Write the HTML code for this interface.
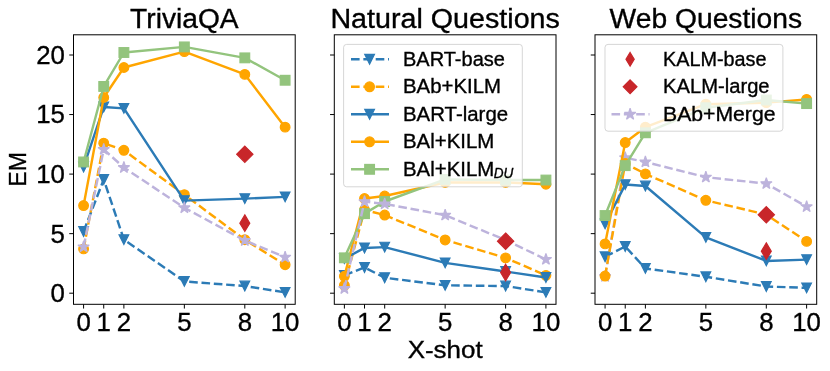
<!DOCTYPE html><html><head><meta charset="utf-8"><style>html,body{margin:0;padding:0;background:#fff;}svg{display:block;will-change:transform;}text{font-family:"Liberation Sans",sans-serif;fill:#000;stroke:#000;stroke-width:0.35px;}</style></head><body>
<svg width="830" height="371" viewBox="0 0 830 371">
<rect width="830" height="371" fill="#fff"/>
<defs><clipPath id="c0"><rect x="73.5" y="34.8" width="221.7" height="269.5"/></clipPath></defs>
<g clip-path="url(#c0)">
<path d="M83.58,231.51L103.73,179.46L123.89,239.6L184.35,281.41L244.81,286.05L285.12,292.37" fill="none" stroke="#2c7bb6" stroke-width="2.43" stroke-linejoin="round" stroke-dasharray="8.6,3.75"/><path d="M78.73,226.66L88.43,226.66L83.58,236.36Z" fill="#2c7bb6" stroke="#2c7bb6" stroke-width="1.2"/><path d="M98.88,174.61L108.58,174.61L103.73,184.31Z" fill="#2c7bb6" stroke="#2c7bb6" stroke-width="1.2"/><path d="M119.04,234.75L128.74,234.75L123.89,244.45Z" fill="#2c7bb6" stroke="#2c7bb6" stroke-width="1.2"/><path d="M179.5,276.56L189.2,276.56L184.35,286.26Z" fill="#2c7bb6" stroke="#2c7bb6" stroke-width="1.2"/><path d="M239.96,281.2L249.66,281.2L244.81,290.9Z" fill="#2c7bb6" stroke="#2c7bb6" stroke-width="1.2"/><path d="M280.27,287.52L289.97,287.52L285.12,297.22Z" fill="#2c7bb6" stroke="#2c7bb6" stroke-width="1.2"/>
<path d="M83.58,248.89L103.73,143.13L123.89,150.28L184.35,194.7L244.81,239.72L285.12,264.74" fill="none" stroke="#ffa500" stroke-width="2.43" stroke-linejoin="round" stroke-dasharray="8.6,3.75"/><circle cx="83.58" cy="248.89" r="4.85" fill="#ffa500" stroke="#ffa500" stroke-width="1.2"/><circle cx="103.73" cy="143.13" r="4.85" fill="#ffa500" stroke="#ffa500" stroke-width="1.2"/><circle cx="123.89" cy="150.28" r="4.85" fill="#ffa500" stroke="#ffa500" stroke-width="1.2"/><circle cx="184.35" cy="194.7" r="4.85" fill="#ffa500" stroke="#ffa500" stroke-width="1.2"/><circle cx="244.81" cy="239.72" r="4.85" fill="#ffa500" stroke="#ffa500" stroke-width="1.2"/><circle cx="285.12" cy="264.74" r="4.85" fill="#ffa500" stroke="#ffa500" stroke-width="1.2"/>
<path d="M83.58,166.95L103.73,107.05L123.89,108.36L184.35,200.66L244.81,198.63L285.12,196.85" fill="none" stroke="#2c7bb6" stroke-width="2.43" stroke-linejoin="round"/><path d="M78.73,162.1L88.43,162.1L83.58,171.8Z" fill="#2c7bb6" stroke="#2c7bb6" stroke-width="1.2"/><path d="M98.88,102.2L108.58,102.2L103.73,111.9Z" fill="#2c7bb6" stroke="#2c7bb6" stroke-width="1.2"/><path d="M119.04,103.51L128.74,103.51L123.89,113.21Z" fill="#2c7bb6" stroke="#2c7bb6" stroke-width="1.2"/><path d="M179.5,195.81L189.2,195.81L184.35,205.51Z" fill="#2c7bb6" stroke="#2c7bb6" stroke-width="1.2"/><path d="M239.96,193.78L249.66,193.78L244.81,203.48Z" fill="#2c7bb6" stroke="#2c7bb6" stroke-width="1.2"/><path d="M280.27,192L289.97,192L285.12,201.7Z" fill="#2c7bb6" stroke="#2c7bb6" stroke-width="1.2"/>
<path d="M83.58,205.54L103.73,97.52L123.89,67.51L184.35,51.67L244.81,74.41L285.12,127.17" fill="none" stroke="#ffa500" stroke-width="2.43" stroke-linejoin="round"/><circle cx="83.58" cy="205.54" r="4.85" fill="#ffa500" stroke="#ffa500" stroke-width="1.2"/><circle cx="103.73" cy="97.52" r="4.85" fill="#ffa500" stroke="#ffa500" stroke-width="1.2"/><circle cx="123.89" cy="67.51" r="4.85" fill="#ffa500" stroke="#ffa500" stroke-width="1.2"/><circle cx="184.35" cy="51.67" r="4.85" fill="#ffa500" stroke="#ffa500" stroke-width="1.2"/><circle cx="244.81" cy="74.41" r="4.85" fill="#ffa500" stroke="#ffa500" stroke-width="1.2"/><circle cx="285.12" cy="127.17" r="4.85" fill="#ffa500" stroke="#ffa500" stroke-width="1.2"/>
<path d="M83.58,161.95L103.73,86.44L123.89,52.5L184.35,46.9L244.81,57.86L285.12,80.25" fill="none" stroke="#93c47d" stroke-width="2.43" stroke-linejoin="round"/><rect x="78.73" y="157.1" width="9.7" height="9.7" fill="#93c47d" stroke="#93c47d" stroke-width="1.2"/><rect x="98.88" y="81.59" width="9.7" height="9.7" fill="#93c47d" stroke="#93c47d" stroke-width="1.2"/><rect x="119.04" y="47.65" width="9.7" height="9.7" fill="#93c47d" stroke="#93c47d" stroke-width="1.2"/><rect x="179.5" y="42.05" width="9.7" height="9.7" fill="#93c47d" stroke="#93c47d" stroke-width="1.2"/><rect x="239.96" y="53.01" width="9.7" height="9.7" fill="#93c47d" stroke="#93c47d" stroke-width="1.2"/><rect x="280.27" y="75.4" width="9.7" height="9.7" fill="#93c47d" stroke="#93c47d" stroke-width="1.2"/>
<path d="M83.58,246.87L103.73,149.45L123.89,167.55L184.35,207.81L244.81,240.56L285.12,257.23" fill="none" stroke="#bdb3dc" stroke-width="2.43" stroke-linejoin="round" stroke-dasharray="8.6,3.75"/><path d="M83.58,240.87L82.23,245.02L77.87,245.02L81.4,247.58L80.05,251.72L83.58,249.16L87.1,251.72L85.76,247.58L89.28,245.02L84.92,245.02Z" fill="#bdb3dc" stroke="#bdb3dc" stroke-width="1.2" stroke-linejoin="bevel"/><path d="M103.73,143.45L102.38,147.59L98.03,147.59L101.55,150.15L100.21,154.3L103.73,151.74L107.26,154.3L105.91,150.15L109.44,147.59L105.08,147.59Z" fill="#bdb3dc" stroke="#bdb3dc" stroke-width="1.2" stroke-linejoin="bevel"/><path d="M123.89,161.55L122.54,165.7L118.18,165.7L121.71,168.26L120.36,172.4L123.89,169.84L127.41,172.4L126.07,168.26L129.59,165.7L125.23,165.7Z" fill="#bdb3dc" stroke="#bdb3dc" stroke-width="1.2" stroke-linejoin="bevel"/><path d="M184.35,201.81L183,205.95L178.64,205.95L182.17,208.51L180.82,212.66L184.35,210.1L187.88,212.66L186.53,208.51L190.06,205.95L185.7,205.95Z" fill="#bdb3dc" stroke="#bdb3dc" stroke-width="1.2" stroke-linejoin="bevel"/><path d="M244.81,234.56L243.47,238.7L239.11,238.7L242.63,241.27L241.29,245.41L244.81,242.85L248.34,245.41L246.99,241.27L250.52,238.7L246.16,238.7Z" fill="#bdb3dc" stroke="#bdb3dc" stroke-width="1.2" stroke-linejoin="bevel"/><path d="M285.12,251.23L283.78,255.38L279.42,255.38L282.94,257.94L281.6,262.09L285.12,259.52L288.65,262.09L287.3,257.94L290.83,255.38L286.47,255.38Z" fill="#bdb3dc" stroke="#bdb3dc" stroke-width="1.2" stroke-linejoin="bevel"/>
<path d="M244.81,214.9L249.78,223.17L244.81,231.44L239.85,223.17Z" fill="#c8262a" stroke="#c8262a" stroke-width="1.2"/>
<path d="M244.81,146.08L252.95,154.21L244.81,162.34L236.68,154.21Z" fill="#c8262a" stroke="#c8262a" stroke-width="1.2"/>
</g>
<rect x="73.5" y="34.8" width="221.7" height="269.5" fill="none" stroke="#000" stroke-width="1.0"/>
<line x1="83.58" y1="304.3" x2="83.58" y2="308.55" stroke="#000" stroke-width="1.0"/>
<text x="83.58" y="331.1" font-size="25.8" text-anchor="middle">0</text>
<line x1="103.73" y1="304.3" x2="103.73" y2="308.55" stroke="#000" stroke-width="1.0"/>
<text x="103.73" y="331.1" font-size="25.8" text-anchor="middle">1</text>
<line x1="123.89" y1="304.3" x2="123.89" y2="308.55" stroke="#000" stroke-width="1.0"/>
<text x="123.89" y="331.1" font-size="25.8" text-anchor="middle">2</text>
<line x1="184.35" y1="304.3" x2="184.35" y2="308.55" stroke="#000" stroke-width="1.0"/>
<text x="184.35" y="331.1" font-size="25.8" text-anchor="middle">5</text>
<line x1="244.81" y1="304.3" x2="244.81" y2="308.55" stroke="#000" stroke-width="1.0"/>
<text x="244.81" y="331.1" font-size="25.8" text-anchor="middle">8</text>
<line x1="285.12" y1="304.3" x2="285.12" y2="308.55" stroke="#000" stroke-width="1.0"/>
<text x="285.12" y="331.1" font-size="25.8" text-anchor="middle">10</text>
<line x1="69.25" y1="293.2" x2="73.5" y2="293.2" stroke="#000" stroke-width="1.0"/>
<text x="64.9" y="302.1" font-size="25.8" text-anchor="end">0</text>
<line x1="69.25" y1="233.65" x2="73.5" y2="233.65" stroke="#000" stroke-width="1.0"/>
<text x="64.9" y="242.55" font-size="25.8" text-anchor="end">5</text>
<line x1="69.25" y1="174.1" x2="73.5" y2="174.1" stroke="#000" stroke-width="1.0"/>
<text x="64.9" y="183" font-size="25.8" text-anchor="end">10</text>
<line x1="69.25" y1="114.55" x2="73.5" y2="114.55" stroke="#000" stroke-width="1.0"/>
<text x="64.9" y="123.45" font-size="25.8" text-anchor="end">15</text>
<line x1="69.25" y1="55" x2="73.5" y2="55" stroke="#000" stroke-width="1.0"/>
<text x="64.9" y="63.9" font-size="25.8" text-anchor="end">20</text>
<text x="184.35" y="28" font-size="27.0" text-anchor="middle" textLength="108.5" lengthAdjust="spacingAndGlyphs">TriviaQA</text>
<defs><clipPath id="c1"><rect x="334.3" y="34.8" width="221.7" height="269.5"/></clipPath></defs>
<g clip-path="url(#c1)">
<path d="M344.38,275.33L364.53,267.47L384.69,277.72L445.15,285.34L505.61,286.05L545.92,292.37" fill="none" stroke="#2c7bb6" stroke-width="2.43" stroke-linejoin="round" stroke-dasharray="8.6,3.75"/><path d="M339.53,270.48L349.23,270.48L344.38,280.19Z" fill="#2c7bb6" stroke="#2c7bb6" stroke-width="1.2"/><path d="M359.68,262.62L369.38,262.62L364.53,272.32Z" fill="#2c7bb6" stroke="#2c7bb6" stroke-width="1.2"/><path d="M379.84,272.87L389.54,272.87L384.69,282.57Z" fill="#2c7bb6" stroke="#2c7bb6" stroke-width="1.2"/><path d="M440.3,280.49L450,280.49L445.15,290.19Z" fill="#2c7bb6" stroke="#2c7bb6" stroke-width="1.2"/><path d="M500.76,281.2L510.46,281.2L505.61,290.9Z" fill="#2c7bb6" stroke="#2c7bb6" stroke-width="1.2"/><path d="M541.07,287.52L550.77,287.52L545.92,297.22Z" fill="#2c7bb6" stroke="#2c7bb6" stroke-width="1.2"/>
<path d="M344.38,285.34L364.53,209.95L384.69,215.07L445.15,239.96L505.61,257.83L545.92,275.33" fill="none" stroke="#ffa500" stroke-width="2.43" stroke-linejoin="round" stroke-dasharray="8.6,3.75"/><circle cx="344.38" cy="285.34" r="4.85" fill="#ffa500" stroke="#ffa500" stroke-width="1.2"/><circle cx="364.53" cy="209.95" r="4.85" fill="#ffa500" stroke="#ffa500" stroke-width="1.2"/><circle cx="384.69" cy="215.07" r="4.85" fill="#ffa500" stroke="#ffa500" stroke-width="1.2"/><circle cx="445.15" cy="239.96" r="4.85" fill="#ffa500" stroke="#ffa500" stroke-width="1.2"/><circle cx="505.61" cy="257.83" r="4.85" fill="#ffa500" stroke="#ffa500" stroke-width="1.2"/><circle cx="545.92" cy="275.33" r="4.85" fill="#ffa500" stroke="#ffa500" stroke-width="1.2"/>
<path d="M344.38,258.66L364.53,247.94L384.69,247.11L445.15,262.83L505.61,271.52L545.92,277.48" fill="none" stroke="#2c7bb6" stroke-width="2.43" stroke-linejoin="round"/><path d="M339.53,253.81L349.23,253.81L344.38,263.51Z" fill="#2c7bb6" stroke="#2c7bb6" stroke-width="1.2"/><path d="M359.68,243.09L369.38,243.09L364.53,252.79Z" fill="#2c7bb6" stroke="#2c7bb6" stroke-width="1.2"/><path d="M379.84,242.26L389.54,242.26L384.69,251.96Z" fill="#2c7bb6" stroke="#2c7bb6" stroke-width="1.2"/><path d="M440.3,257.98L450,257.98L445.15,267.68Z" fill="#2c7bb6" stroke="#2c7bb6" stroke-width="1.2"/><path d="M500.76,266.67L510.46,266.67L505.61,276.37Z" fill="#2c7bb6" stroke="#2c7bb6" stroke-width="1.2"/><path d="M541.07,272.63L550.77,272.63L545.92,282.33Z" fill="#2c7bb6" stroke="#2c7bb6" stroke-width="1.2"/>
<path d="M344.38,276.29L364.53,198.52L384.69,196.01L445.15,182.44L505.61,182.44L545.92,184.22" fill="none" stroke="#ffa500" stroke-width="2.43" stroke-linejoin="round"/><circle cx="344.38" cy="276.29" r="4.85" fill="#ffa500" stroke="#ffa500" stroke-width="1.2"/><circle cx="364.53" cy="198.52" r="4.85" fill="#ffa500" stroke="#ffa500" stroke-width="1.2"/><circle cx="384.69" cy="196.01" r="4.85" fill="#ffa500" stroke="#ffa500" stroke-width="1.2"/><circle cx="445.15" cy="182.44" r="4.85" fill="#ffa500" stroke="#ffa500" stroke-width="1.2"/><circle cx="505.61" cy="182.44" r="4.85" fill="#ffa500" stroke="#ffa500" stroke-width="1.2"/><circle cx="545.92" cy="184.22" r="4.85" fill="#ffa500" stroke="#ffa500" stroke-width="1.2"/>
<path d="M344.38,257.83L364.53,213.64L384.69,201.49L445.15,179.46L505.61,180.06L545.92,180.06" fill="none" stroke="#93c47d" stroke-width="2.43" stroke-linejoin="round"/><rect x="339.53" y="252.98" width="9.7" height="9.7" fill="#93c47d" stroke="#93c47d" stroke-width="1.2"/><rect x="359.68" y="208.79" width="9.7" height="9.7" fill="#93c47d" stroke="#93c47d" stroke-width="1.2"/><rect x="379.84" y="196.64" width="9.7" height="9.7" fill="#93c47d" stroke="#93c47d" stroke-width="1.2"/><rect x="440.3" y="174.61" width="9.7" height="9.7" fill="#93c47d" stroke="#93c47d" stroke-width="1.2"/><rect x="500.76" y="175.21" width="9.7" height="9.7" fill="#93c47d" stroke="#93c47d" stroke-width="1.2"/><rect x="541.07" y="175.21" width="9.7" height="9.7" fill="#93c47d" stroke="#93c47d" stroke-width="1.2"/>
<path d="M344.38,288.56L364.53,201.61L384.69,203.88L445.15,215.19L505.61,240.08L545.92,259.38" fill="none" stroke="#bdb3dc" stroke-width="2.43" stroke-linejoin="round" stroke-dasharray="8.6,3.75"/><path d="M344.38,282.56L343.03,286.7L338.67,286.7L342.2,289.26L340.85,293.41L344.38,290.85L347.9,293.41L346.56,289.26L350.08,286.7L345.72,286.7Z" fill="#bdb3dc" stroke="#bdb3dc" stroke-width="1.2" stroke-linejoin="bevel"/><path d="M364.53,195.61L363.18,199.76L358.83,199.76L362.35,202.32L361.01,206.47L364.53,203.9L368.06,206.47L366.71,202.32L370.24,199.76L365.88,199.76Z" fill="#bdb3dc" stroke="#bdb3dc" stroke-width="1.2" stroke-linejoin="bevel"/><path d="M384.69,197.88L383.34,202.02L378.98,202.02L382.51,204.58L381.16,208.73L384.69,206.17L388.21,208.73L386.87,204.58L390.39,202.02L386.03,202.02Z" fill="#bdb3dc" stroke="#bdb3dc" stroke-width="1.2" stroke-linejoin="bevel"/><path d="M445.15,209.19L443.8,213.34L439.44,213.34L442.97,215.9L441.62,220.04L445.15,217.48L448.68,220.04L447.33,215.9L450.86,213.34L446.5,213.34Z" fill="#bdb3dc" stroke="#bdb3dc" stroke-width="1.2" stroke-linejoin="bevel"/><path d="M505.61,234.08L504.27,238.23L499.91,238.23L503.43,240.79L502.09,244.94L505.61,242.37L509.14,244.94L507.79,240.79L511.32,238.23L506.96,238.23Z" fill="#bdb3dc" stroke="#bdb3dc" stroke-width="1.2" stroke-linejoin="bevel"/><path d="M545.92,253.38L544.58,257.52L540.22,257.52L543.74,260.08L542.4,264.23L545.92,261.67L549.45,264.23L548.1,260.08L551.63,257.52L547.27,257.52Z" fill="#bdb3dc" stroke="#bdb3dc" stroke-width="1.2" stroke-linejoin="bevel"/>
<path d="M505.61,264.2L510.58,272.48L505.61,280.75L500.65,272.48Z" fill="#c8262a" stroke="#c8262a" stroke-width="1.2"/>
<path d="M505.61,233.02L513.75,241.15L505.61,249.28L497.48,241.15Z" fill="#c8262a" stroke="#c8262a" stroke-width="1.2"/>
</g>
<rect x="334.3" y="34.8" width="221.7" height="269.5" fill="none" stroke="#000" stroke-width="1.0"/>
<line x1="344.38" y1="304.3" x2="344.38" y2="308.55" stroke="#000" stroke-width="1.0"/>
<text x="344.38" y="331.1" font-size="25.8" text-anchor="middle">0</text>
<line x1="364.53" y1="304.3" x2="364.53" y2="308.55" stroke="#000" stroke-width="1.0"/>
<text x="364.53" y="331.1" font-size="25.8" text-anchor="middle">1</text>
<line x1="384.69" y1="304.3" x2="384.69" y2="308.55" stroke="#000" stroke-width="1.0"/>
<text x="384.69" y="331.1" font-size="25.8" text-anchor="middle">2</text>
<line x1="445.15" y1="304.3" x2="445.15" y2="308.55" stroke="#000" stroke-width="1.0"/>
<text x="445.15" y="331.1" font-size="25.8" text-anchor="middle">5</text>
<line x1="505.61" y1="304.3" x2="505.61" y2="308.55" stroke="#000" stroke-width="1.0"/>
<text x="505.61" y="331.1" font-size="25.8" text-anchor="middle">8</text>
<line x1="545.92" y1="304.3" x2="545.92" y2="308.55" stroke="#000" stroke-width="1.0"/>
<text x="545.92" y="331.1" font-size="25.8" text-anchor="middle">10</text>
<line x1="330.05" y1="293.2" x2="334.3" y2="293.2" stroke="#000" stroke-width="1.0"/>
<line x1="330.05" y1="233.65" x2="334.3" y2="233.65" stroke="#000" stroke-width="1.0"/>
<line x1="330.05" y1="174.1" x2="334.3" y2="174.1" stroke="#000" stroke-width="1.0"/>
<line x1="330.05" y1="114.55" x2="334.3" y2="114.55" stroke="#000" stroke-width="1.0"/>
<line x1="330.05" y1="55" x2="334.3" y2="55" stroke="#000" stroke-width="1.0"/>
<text x="445.15" y="28" font-size="27.0" text-anchor="middle" textLength="229.5" lengthAdjust="spacingAndGlyphs">Natural Questions</text>
<defs><clipPath id="c2"><rect x="595" y="34.8" width="221.7" height="269.5"/></clipPath></defs>
<g clip-path="url(#c2)">
<path d="M605.08,276.53L625.23,157.78L645.39,161.95L705.85,177.2L766.31,183.63L806.62,206.73" fill="none" stroke="#bdb3dc" stroke-width="2.43" stroke-linejoin="round" stroke-dasharray="8.6,3.75"/><path d="M605.08,270.53L603.73,274.67L599.37,274.67L602.9,277.23L601.55,281.38L605.08,278.82L608.6,281.38L607.26,277.23L610.78,274.67L606.42,274.67Z" fill="#bdb3dc" stroke="#bdb3dc" stroke-width="1.2" stroke-linejoin="bevel"/><path d="M625.23,151.78L623.88,155.93L619.53,155.93L623.05,158.49L621.71,162.64L625.23,160.08L628.76,162.64L627.41,158.49L630.94,155.93L626.58,155.93Z" fill="#bdb3dc" stroke="#bdb3dc" stroke-width="1.2" stroke-linejoin="bevel"/><path d="M645.39,155.95L644.04,160.1L639.68,160.1L643.21,162.66L641.86,166.81L645.39,164.24L648.91,166.81L647.57,162.66L651.09,160.1L646.73,160.1Z" fill="#bdb3dc" stroke="#bdb3dc" stroke-width="1.2" stroke-linejoin="bevel"/><path d="M705.85,171.2L704.5,175.34L700.14,175.34L703.67,177.9L702.32,182.05L705.85,179.49L709.38,182.05L708.03,177.9L711.56,175.34L707.2,175.34Z" fill="#bdb3dc" stroke="#bdb3dc" stroke-width="1.2" stroke-linejoin="bevel"/><path d="M766.31,177.63L764.97,181.77L760.61,181.77L764.13,184.34L762.79,188.48L766.31,185.92L769.84,188.48L768.49,184.34L772.02,181.77L767.66,181.77Z" fill="#bdb3dc" stroke="#bdb3dc" stroke-width="1.2" stroke-linejoin="bevel"/><path d="M806.62,200.73L805.28,204.88L800.92,204.88L804.44,207.44L803.1,211.59L806.62,209.03L810.15,211.59L808.8,207.44L812.33,204.88L807.97,204.88Z" fill="#bdb3dc" stroke="#bdb3dc" stroke-width="1.2" stroke-linejoin="bevel"/>
<path d="M605.08,256.76L625.23,246.51L645.39,268.43L705.85,276.76L766.31,286.53L806.62,287.84" fill="none" stroke="#2c7bb6" stroke-width="2.43" stroke-linejoin="round" stroke-dasharray="8.6,3.75"/><path d="M600.23,251.91L609.93,251.91L605.08,261.61Z" fill="#2c7bb6" stroke="#2c7bb6" stroke-width="1.2"/><path d="M620.38,241.66L630.08,241.66L625.23,251.36Z" fill="#2c7bb6" stroke="#2c7bb6" stroke-width="1.2"/><path d="M640.54,263.58L650.24,263.58L645.39,273.28Z" fill="#2c7bb6" stroke="#2c7bb6" stroke-width="1.2"/><path d="M701,271.91L710.7,271.91L705.85,281.61Z" fill="#2c7bb6" stroke="#2c7bb6" stroke-width="1.2"/><path d="M761.46,281.68L771.16,281.68L766.31,291.38Z" fill="#2c7bb6" stroke="#2c7bb6" stroke-width="1.2"/><path d="M801.77,282.99L811.47,282.99L806.62,292.69Z" fill="#2c7bb6" stroke="#2c7bb6" stroke-width="1.2"/>
<path d="M605.08,276.05L625.23,163.38L645.39,173.86L705.85,200.3L766.31,214.59L806.62,241.39" fill="none" stroke="#ffa500" stroke-width="2.43" stroke-linejoin="round" stroke-dasharray="8.6,3.75"/><circle cx="605.08" cy="276.05" r="4.85" fill="#ffa500" stroke="#ffa500" stroke-width="1.2"/><circle cx="625.23" cy="163.38" r="4.85" fill="#ffa500" stroke="#ffa500" stroke-width="1.2"/><circle cx="645.39" cy="173.86" r="4.85" fill="#ffa500" stroke="#ffa500" stroke-width="1.2"/><circle cx="705.85" cy="200.3" r="4.85" fill="#ffa500" stroke="#ffa500" stroke-width="1.2"/><circle cx="766.31" cy="214.59" r="4.85" fill="#ffa500" stroke="#ffa500" stroke-width="1.2"/><circle cx="806.62" cy="241.39" r="4.85" fill="#ffa500" stroke="#ffa500" stroke-width="1.2"/>
<path d="M605.08,223.88L625.23,184.58L645.39,186.01L705.85,237.34L766.31,260.92L806.62,259.61" fill="none" stroke="#2c7bb6" stroke-width="2.43" stroke-linejoin="round"/><path d="M600.23,219.03L609.93,219.03L605.08,228.73Z" fill="#2c7bb6" stroke="#2c7bb6" stroke-width="1.2"/><path d="M620.38,179.73L630.08,179.73L625.23,189.43Z" fill="#2c7bb6" stroke="#2c7bb6" stroke-width="1.2"/><path d="M640.54,181.16L650.24,181.16L645.39,190.86Z" fill="#2c7bb6" stroke="#2c7bb6" stroke-width="1.2"/><path d="M701,232.49L710.7,232.49L705.85,242.19Z" fill="#2c7bb6" stroke="#2c7bb6" stroke-width="1.2"/><path d="M761.46,256.07L771.16,256.07L766.31,265.77Z" fill="#2c7bb6" stroke="#2c7bb6" stroke-width="1.2"/><path d="M801.77,254.76L811.47,254.76L806.62,264.46Z" fill="#2c7bb6" stroke="#2c7bb6" stroke-width="1.2"/>
<path d="M605.08,243.89L625.23,142.54L645.39,127.17L705.85,104.19L766.31,102.64L806.62,99.42" fill="none" stroke="#ffa500" stroke-width="2.43" stroke-linejoin="round"/><circle cx="605.08" cy="243.89" r="4.85" fill="#ffa500" stroke="#ffa500" stroke-width="1.2"/><circle cx="625.23" cy="142.54" r="4.85" fill="#ffa500" stroke="#ffa500" stroke-width="1.2"/><circle cx="645.39" cy="127.17" r="4.85" fill="#ffa500" stroke="#ffa500" stroke-width="1.2"/><circle cx="705.85" cy="104.19" r="4.85" fill="#ffa500" stroke="#ffa500" stroke-width="1.2"/><circle cx="766.31" cy="102.64" r="4.85" fill="#ffa500" stroke="#ffa500" stroke-width="1.2"/><circle cx="806.62" cy="99.42" r="4.85" fill="#ffa500" stroke="#ffa500" stroke-width="1.2"/>
<path d="M605.08,215.55L625.23,165.64L645.39,132.77L705.85,107.76L766.31,100.02L806.62,103.59" fill="none" stroke="#93c47d" stroke-width="2.43" stroke-linejoin="round"/><rect x="600.23" y="210.7" width="9.7" height="9.7" fill="#93c47d" stroke="#93c47d" stroke-width="1.2"/><rect x="620.38" y="160.79" width="9.7" height="9.7" fill="#93c47d" stroke="#93c47d" stroke-width="1.2"/><rect x="640.54" y="127.92" width="9.7" height="9.7" fill="#93c47d" stroke="#93c47d" stroke-width="1.2"/><rect x="701" y="102.91" width="9.7" height="9.7" fill="#93c47d" stroke="#93c47d" stroke-width="1.2"/><rect x="761.46" y="95.17" width="9.7" height="9.7" fill="#93c47d" stroke="#93c47d" stroke-width="1.2"/><rect x="801.77" y="98.74" width="9.7" height="9.7" fill="#93c47d" stroke="#93c47d" stroke-width="1.2"/>
<path d="M766.31,242.88L771.28,251.16L766.31,259.43L761.35,251.16Z" fill="#c8262a" stroke="#c8262a" stroke-width="1.2"/>
<path d="M766.31,206.58L774.45,214.71L766.31,222.84L758.18,214.71Z" fill="#c8262a" stroke="#c8262a" stroke-width="1.2"/>
</g>
<rect x="595" y="34.8" width="221.7" height="269.5" fill="none" stroke="#000" stroke-width="1.0"/>
<line x1="605.08" y1="304.3" x2="605.08" y2="308.55" stroke="#000" stroke-width="1.0"/>
<text x="605.08" y="331.1" font-size="25.8" text-anchor="middle">0</text>
<line x1="625.23" y1="304.3" x2="625.23" y2="308.55" stroke="#000" stroke-width="1.0"/>
<text x="625.23" y="331.1" font-size="25.8" text-anchor="middle">1</text>
<line x1="645.39" y1="304.3" x2="645.39" y2="308.55" stroke="#000" stroke-width="1.0"/>
<text x="645.39" y="331.1" font-size="25.8" text-anchor="middle">2</text>
<line x1="705.85" y1="304.3" x2="705.85" y2="308.55" stroke="#000" stroke-width="1.0"/>
<text x="705.85" y="331.1" font-size="25.8" text-anchor="middle">5</text>
<line x1="766.31" y1="304.3" x2="766.31" y2="308.55" stroke="#000" stroke-width="1.0"/>
<text x="766.31" y="331.1" font-size="25.8" text-anchor="middle">8</text>
<line x1="806.62" y1="304.3" x2="806.62" y2="308.55" stroke="#000" stroke-width="1.0"/>
<text x="806.62" y="331.1" font-size="25.8" text-anchor="middle">10</text>
<line x1="590.75" y1="293.2" x2="595" y2="293.2" stroke="#000" stroke-width="1.0"/>
<line x1="590.75" y1="233.65" x2="595" y2="233.65" stroke="#000" stroke-width="1.0"/>
<line x1="590.75" y1="174.1" x2="595" y2="174.1" stroke="#000" stroke-width="1.0"/>
<line x1="590.75" y1="114.55" x2="595" y2="114.55" stroke="#000" stroke-width="1.0"/>
<line x1="590.75" y1="55" x2="595" y2="55" stroke="#000" stroke-width="1.0"/>
<text x="705.85" y="28" font-size="27.0" text-anchor="middle" textLength="192.5" lengthAdjust="spacingAndGlyphs">Web Questions</text>
<text transform="translate(25.9,169.4) rotate(-90)" font-size="24.2" text-anchor="middle" textLength="34.5" lengthAdjust="spacingAndGlyphs">EM</text>
<text x="445.15" y="358.2" font-size="24.2" text-anchor="middle" textLength="75" lengthAdjust="spacingAndGlyphs">X-shot</text>
<rect x="343.6" y="44.4" width="178.7" height="142.4" rx="3" ry="3" fill="#fff" fill-opacity="0.8" stroke="#cccccc" stroke-opacity="0.8" stroke-width="1.0"/><line x1="351" y1="59.3" x2="389" y2="59.3" stroke="#2c7bb6" stroke-width="2.43" stroke-dasharray="8.6,3.75"/><path d="M364.75,54.45L374.45,54.45L369.6,64.15Z" fill="#2c7bb6" stroke="#2c7bb6" stroke-width="1.2"/><text x="403" y="65.6" font-size="19.9" textLength="101.9" lengthAdjust="spacingAndGlyphs">BART-base</text><line x1="351" y1="86.8" x2="389" y2="86.8" stroke="#ffa500" stroke-width="2.43" stroke-dasharray="8.6,3.75"/><circle cx="369.6" cy="86.8" r="4.85" fill="#ffa500" stroke="#ffa500" stroke-width="1.2"/><text x="403" y="93.1" font-size="19.9" textLength="98.0" lengthAdjust="spacingAndGlyphs">BAb+KILM</text><line x1="351" y1="114.3" x2="389" y2="114.3" stroke="#2c7bb6" stroke-width="2.43"/><path d="M364.75,109.45L374.45,109.45L369.6,119.15Z" fill="#2c7bb6" stroke="#2c7bb6" stroke-width="1.2"/><text x="403" y="120.6" font-size="19.9" textLength="105.1" lengthAdjust="spacingAndGlyphs">BART-large</text><line x1="351" y1="141.8" x2="389" y2="141.8" stroke="#ffa500" stroke-width="2.43"/><circle cx="369.6" cy="141.8" r="4.85" fill="#ffa500" stroke="#ffa500" stroke-width="1.2"/><text x="403" y="148.1" font-size="19.9" textLength="91.3" lengthAdjust="spacingAndGlyphs">BAl+KILM</text><line x1="351" y1="169.3" x2="389" y2="169.3" stroke="#93c47d" stroke-width="2.43"/><rect x="364.75" y="164.45" width="9.7" height="9.7" fill="#93c47d" stroke="#93c47d" stroke-width="1.2"/><text x="403" y="175.6" font-size="19.9" textLength="91.3" lengthAdjust="spacingAndGlyphs">BAl+KILM</text><text x="493.8" y="178.1" font-size="14" font-style="italic" textLength="19.6" lengthAdjust="spacingAndGlyphs">DU</text>
<rect x="605" y="44.4" width="177.9" height="86.8" rx="3" ry="3" fill="#fff" fill-opacity="0.8" stroke="#cccccc" stroke-opacity="0.8" stroke-width="1.0"/><path d="M630.1,52.44L634.22,59.3L630.1,66.16L625.98,59.3Z" fill="#c8262a" stroke="#c8262a" stroke-width="1.2"/><text x="663" y="65.6" font-size="19.9" textLength="103.5" lengthAdjust="spacingAndGlyphs">KALM-base</text><path d="M630.1,79.94L636.96,86.8L630.1,93.66L623.24,86.8Z" fill="#c8262a" stroke="#c8262a" stroke-width="1.2"/><text x="663" y="93.1" font-size="19.9" textLength="106.6" lengthAdjust="spacingAndGlyphs">KALM-large</text><line x1="611.5" y1="114.3" x2="649.5" y2="114.3" stroke="#bdb3dc" stroke-width="2.43" stroke-dasharray="8.6,3.75"/><path d="M630.1,108.3L628.75,112.45L624.39,112.45L627.92,115.01L626.57,119.15L630.1,116.59L633.63,119.15L632.28,115.01L635.81,112.45L631.45,112.45Z" fill="#bdb3dc" stroke="#bdb3dc" stroke-width="1.2" stroke-linejoin="bevel"/><text x="663" y="120.6" font-size="19.9" textLength="112.5" lengthAdjust="spacingAndGlyphs">BAb+Merge</text>
</svg></body></html>
